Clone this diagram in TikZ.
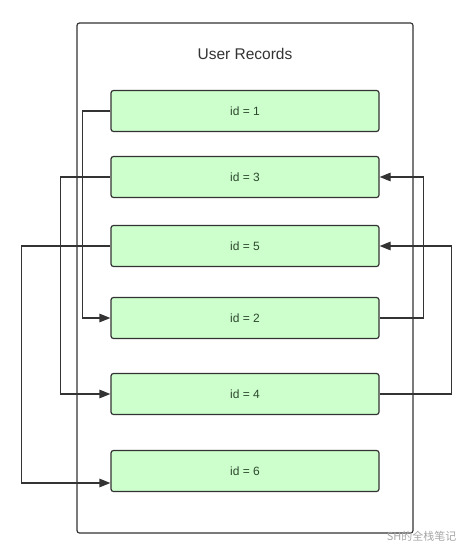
\documentclass[tikz,border=0pt]{standalone}
\usepackage{fontspec}
\setmainfont{Liberation Sans}
\newfontfamily\cjk{Noto Sans CJK SC}
\usetikzlibrary{arrows.meta}
\definecolor{recgreen}{HTML}{CCFFCC}
\definecolor{lineg}{HTML}{333333}
\tikzset{
  record/.style={draw=lineg, line width=1.2pt, fill=recgreen, rounded corners=2.5pt,
    minimum width=268pt, minimum height=41pt, font=\fontsize{12}{14}\selectfont, text=lineg!90!green},
  link/.style={draw=lineg, line width=1.2pt, -{Triangle[length=11pt,width=8.5pt]}}
}
\begin{document}
\begin{tikzpicture}[x=1pt,y=-1pt]
\useasboundingbox (0,0) rectangle (474,556);

% container
\draw[lineg, line width=1.2pt, rounded corners=2.5pt] (77,23) rectangle (413,533);
\node[text=lineg, font=\fontsize{15.5}{18}\selectfont] (title) at (245,54) {User Records};

% records
\node[record] (r1) at (245,111) {id = 1};
\node[record] (r3) at (245,177) {id = 3};
\node[record] (r5) at (245,246) {id = 5};
\node[record] (r2) at (245,318) {id = 2};
\node[record] (r4) at (245,394) {id = 4};
\node[record] (r6) at (245,471) {id = 6};

% next record links
\draw[link] (r1.west) -- ++(-28,0) |- (r2.west);
\draw[link] (r2.east) -- ++(44,0) |- (r3.east);
\draw[link] (r3.west) -- ++(-50,0) |- (r4.west);
\draw[link] (r4.east) -- ++(72,0) |- (r5.east);
\draw[link] (r5.west) -- ++(-89,0) |- ([yshift=-12pt]r6.west);

%watermark
\node[text=black!35, font=\cjk\fontsize{11}{13}\selectfont, anchor=east] (mark) at (460,536) {SH的全栈笔记};
\end{tikzpicture}
\end{document}
